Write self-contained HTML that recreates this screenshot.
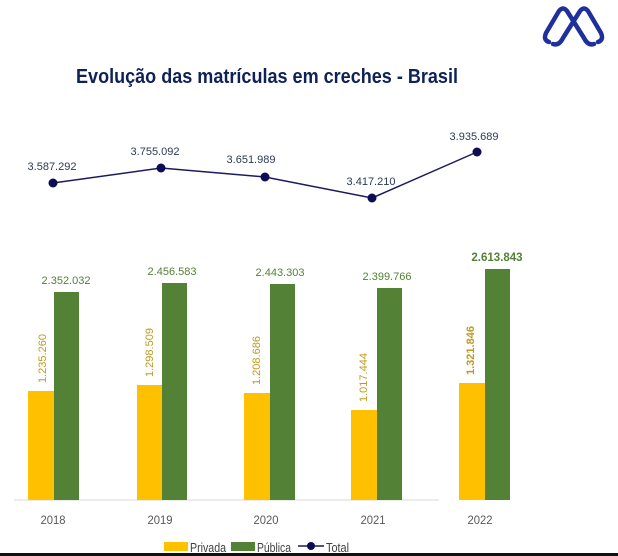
<!DOCTYPE html>
<html><head><meta charset="utf-8"><style>
body{margin:0;background:#fff;}
svg{display:block;font-family:"Liberation Sans",sans-serif;}
</style></head><body>
<svg width="618" height="556" viewBox="0 0 618 556" xmlns="http://www.w3.org/2000/svg">
<rect width="618" height="556" fill="#fff"/>
<!-- logo -->
<g fill="none" stroke="#1f2f9c" stroke-width="4.5" stroke-linecap="round" stroke-linejoin="round">
<path d="M549 42 Q543 40 546 33 L559 11 Q563 6 567 11 L584 38 Q588 46 594 44"/>
<path d="M598 42 Q604 40 601 33 L588 11 Q584 6 580 11 L563 38 Q559 46 553 44"/>
</g>
<text x="76" y="83" textLength="382" lengthAdjust="spacingAndGlyphs" font-size="20" font-weight="bold" fill="#0f2257">Evolução das matrículas em creches - Brasil</text>
<!-- line -->
<polyline points="53,183 161,168 265,177 372,198 477,152" fill="none" stroke="#1a1a5e" stroke-width="1.5"/>
<g fill="#0d0d55"><circle cx="53" cy="183" r="4.5"/><circle cx="161" cy="168" r="4.5"/><circle cx="265" cy="177" r="4.5"/><circle cx="372" cy="198" r="4.5"/><circle cx="477" cy="152" r="4.5"/></g>
<g font-size="11" fill="#2a3a55" text-anchor="middle">
<text x="52" y="170">3.587.292</text><text x="155" y="155">3.755.092</text><text x="251" y="163">3.651.989</text><text x="371" y="185">3.417.210</text><text x="474" y="140">3.935.689</text>
</g>
<!-- axis -->
<line x1="14" y1="500" x2="439" y2="500" stroke="#d9d9d9" stroke-width="1"/>
<g fill="#ffc000">
<rect x="28" y="391" width="26" height="109"/><rect x="137" y="385" width="25" height="115"/><rect x="244" y="393" width="26" height="107"/><rect x="351" y="410" width="26" height="90"/><rect x="459" y="383" width="26" height="117"/>
</g>
<g fill="#538135">
<rect x="54" y="292" width="25" height="208"/><rect x="162" y="283" width="25" height="217"/><rect x="270" y="284" width="25" height="216"/><rect x="377" y="288" width="25" height="212"/><rect x="485" y="269" width="25" height="231"/>
</g>
<g font-size="11" fill="#538135" text-anchor="middle">
<text x="66" y="284">2.352.032</text><text x="172" y="275">2.456.583</text><text x="280" y="276">2.443.303</text><text x="387" y="280">2.399.766</text><text x="497" y="261" font-weight="bold" font-size="11.5">2.613.843</text>
</g>
<g font-size="11" fill="#bf9a1e" text-anchor="start">
<text transform="translate(46,383) rotate(-90)">1.235.260</text>
<text transform="translate(153,377) rotate(-90)">1.298.509</text>
<text transform="translate(260,385) rotate(-90)">1.208.686</text>
<text transform="translate(367,402) rotate(-90)">1.017.444</text>
<text transform="translate(474,375) rotate(-90)" font-weight="bold">1.321.846</text>
</g>
<g font-size="12" fill="#595959" text-anchor="middle">
<text x="53" y="524" textLength="25" lengthAdjust="spacingAndGlyphs">2018</text><text x="160" y="524" textLength="25" lengthAdjust="spacingAndGlyphs">2019</text><text x="266" y="524" textLength="25" lengthAdjust="spacingAndGlyphs">2020</text><text x="373" y="524" textLength="25" lengthAdjust="spacingAndGlyphs">2021</text><text x="480" y="524" textLength="25" lengthAdjust="spacingAndGlyphs">2022</text>
</g>
<rect x="164" y="542" width="24" height="9" fill="#ffc000"/>
<rect x="231" y="542" width="24" height="9" fill="#538135"/>
<line x1="298" y1="546" x2="324" y2="546" stroke="#1a1a5e" stroke-width="1.5"/>
<circle cx="311" cy="546" r="4" fill="#0d0d55"/>
<g font-size="13" fill="#404040">
<text x="190" y="552" textLength="36" lengthAdjust="spacingAndGlyphs">Privada</text><text x="257" y="552" textLength="34" lengthAdjust="spacingAndGlyphs">Pública</text><text x="326" y="552" textLength="23" lengthAdjust="spacingAndGlyphs">Total</text>
</g>
<rect x="0" y="553" width="618" height="3" fill="#111"/>
</svg>
</body></html>
